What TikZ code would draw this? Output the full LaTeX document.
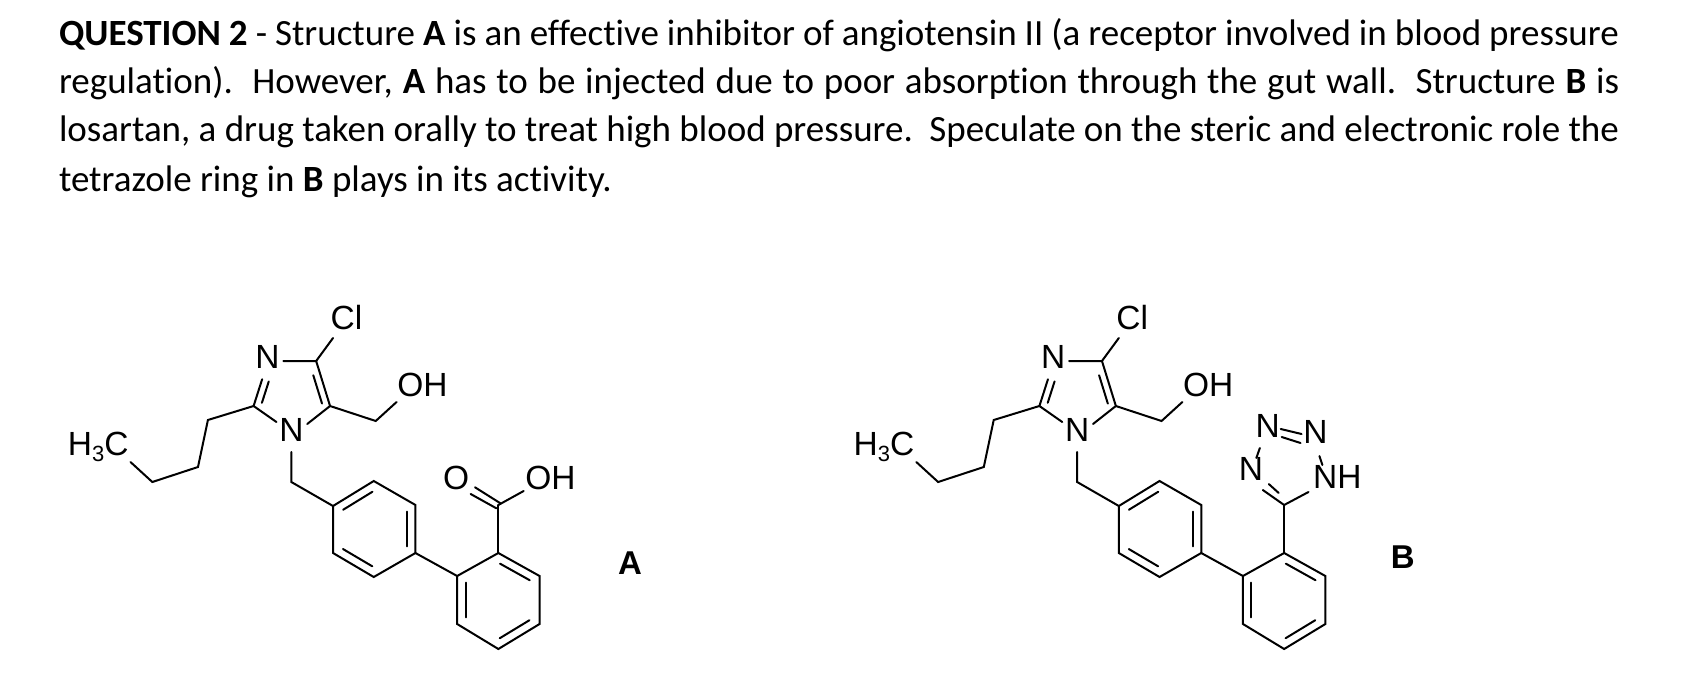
\documentclass[tikz,border=0pt]{standalone}
\usepackage{fontspec}
\setmainfont[Ligatures=NoCommon]{Carlito}
\newfontfamily\chemfont{Liberation Sans}
\usetikzlibrary{calc}
\tikzset{
  bond/.style={line width=2pt,line join=miter,line cap=round,black},
  atom/.style={inner sep=0pt,outer sep=0pt,font=\chemfont\fontsize{33.5}{33.5}\selectfont,text=black},
  tag/.style={inner sep=0pt,outer sep=0pt,font=\chemfont\bfseries\fontsize{33}{33}\selectfont,text=black},
  textline/.style={inner sep=0pt,outer sep=0pt,anchor=base west,font=\fontsize{37}{42}\selectfont,text=black},
}
\newcommand{\innerb}[5]{\draw[bond] ($(#1)!#4!(#2)!#3pt!-90:(#2)$) -- ($(#2)!#5!(#1)!#3pt!90:(#1)$);}
\newcommand{\skeleton}{%
  \node[atom] (h3c) at (98.5,447) {H{\fontsize{22}{22}\selectfont\raisebox{-6pt}{3}}C};
  \node[atom] (cl) at (348.5,318) {Cl};
  \node[atom] (nt) at (269,357) {N};
  \node[atom] (nb) at (293,430) {N};
  \node[atom] (oh) at (425,385) {OH};
  \coordinate (b0) at (131,462);
  \coordinate (b1) at (153,482);
  \coordinate (b2) at (199,467);
  \coordinate (b3) at (209,420);
  \coordinate (c2) at (255,406);
  \coordinate (n3s) at (263.6,379.3);
  \coordinate (n3e) at (285,361);
  \coordinate (c4) at (318,361);
  \coordinate (cls) at (335,338);
  \coordinate (c5) at (332,406);
  \coordinate (n1a) at (278,422);
  \coordinate (n1b) at (309,424);
  \coordinate (n1c) at (293,452);
  \coordinate (ch2o) at (378,421);
  \coordinate (ohs) at (399,402);
  \coordinate (ch2n) at (293,482);
  \coordinate (r1) at (335,506);
  \coordinate (r2) at (376,481);
  \coordinate (r3) at (418,505);
  \coordinate (r4) at (418,553);
  \coordinate (r5) at (376,577);
  \coordinate (r6) at (335,553);
  \coordinate (s1) at (460,576);
  \coordinate (s2) at (501.5,553);
  \coordinate (s3) at (543,576);
  \coordinate (s4) at (543,624);
  \coordinate (s5) at (501.5,649);
  \coordinate (s6) at (460,624);
  \draw[bond] (b0) -- (b1) -- (b2) -- (b3) -- (c2) -- (n3s);
  \draw[bond] (n3e) -- (c4) -- (c5) -- (n1b);
  \draw[bond] (c2) -- (n1a);
  \draw[bond] (c4) -- (cls);
  \draw[bond] (c5) -- (ch2o) -- (ohs);
  \draw[bond] (n1c) -- (ch2n) -- (r1);
  \draw[bond] (r1) -- (r2) -- (r3) -- (r4) -- (r5) -- (r6) -- cycle;
  \draw[bond] (r4) -- (s1);
  \draw[bond] (s1) -- (s2) -- (s3) -- (s4) -- (s5) -- (s6) -- cycle;
  \innerb{c2}{n3s}{7}{.2}{.0}
  \innerb{c4}{c5}{7}{.27}{.1}
  \innerb{r1}{r2}{8.5}{.14}{.14}
  \innerb{r3}{r4}{8.5}{.14}{.14}
  \innerb{r5}{r6}{8.5}{.14}{.14}
  \innerb{s2}{s3}{8.5}{.14}{.14}
  \innerb{s4}{s5}{8.5}{.14}{.14}
  \innerb{s6}{s1}{8.5}{.14}{.14}
  \draw[bond] (s2) -- ++(0,-48) coordinate (top);
}
\begin{document}
\begin{tikzpicture}[x=1pt,y=-1pt]
\useasboundingbox (0,0) rectangle (1702,698);
\fill[white] (0,0) rectangle (1702,698);
\node[textline] (l1) at (59,46) {\hbox to 1560pt{\textbf{QUESTION 2} - Structure \textbf{A} is an effective inhibitor of angiotensin II (a receptor involved in blood pressure}};
\node[textline] (l2) at (59,94) {\hbox to 1560pt{regulation).\ \ However, \textbf{A} has to be injected due to poor absorption through the gut wall.\ \ Structure \textbf{B} is}};
\node[textline] (l3) at (59,142) {\hbox to 1560pt{losartan, a drug taken orally to treat high blood pressure.\ \ Speculate on the steric and electronic role the}};
\node[textline] (l4) at (59,191) {tetrazole ring in \textbf{B} plays in its activity.};

\begin{scope}[shift={(0.4,0)},xscale=.993,name prefix=a-]
  \skeleton
  \node[atom] (o) at (459,478) {O};
  \node[atom] (oh2) at (554,478) {OH};
  \coordinate (co1) at (503.6,503.3);
  \coordinate (co2) at (478,487.3);
  \coordinate (co3) at (499.5,508.3);
  \coordinate (co4) at (473.6,494);
  \coordinate (oh2s) at (527,491);
  \draw[bond] (co1) -- (co2);
  \draw[bond] (co3) -- (co4);
  \draw[bond] (top) -- (oh2s);
  \node[tag] (lab) at (634,563) {A};
\end{scope}

\begin{scope}[shift={(786.2,0)},xscale=.993,name prefix=b-]
  \skeleton
  \node[atom] (n4) at (468,469) {N};
  \node[atom] (n3) at (485,426) {N};
  \node[atom] (n2) at (533,432) {N};
  \node[atom] (n1) at (555,477) {NH};
  \coordinate (cn1) at (526,492);
  \coordinate (cn2) at (480,490);
  \coordinate (cn3) at (496,493);
  \coordinate (cn4) at (486,484);
  \coordinate (nn1) at (473.5,458);
  \coordinate (nn2) at (477,448);
  \coordinate (nn3) at (498,429);
  \coordinate (nn4) at (519,434);
  \coordinate (nn5) at (499,437);
  \coordinate (nn6) at (518,443);
  \coordinate (nn7) at (537,456);
  \coordinate (nn8) at (540,465);
  \draw[bond] (top) -- (cn1);
  \draw[bond] (top) -- (cn2);
  \draw[bond] (cn3) -- (cn4);
  \draw[bond] (nn1) -- (nn2);
  \draw[bond] (nn3) -- (nn4);
  \draw[bond] (nn5) -- (nn6);
  \draw[bond] (nn7) -- (nn8);
  \node[tag] (lab) at (621,557) {B};
\end{scope}
\end{tikzpicture}
\end{document}
